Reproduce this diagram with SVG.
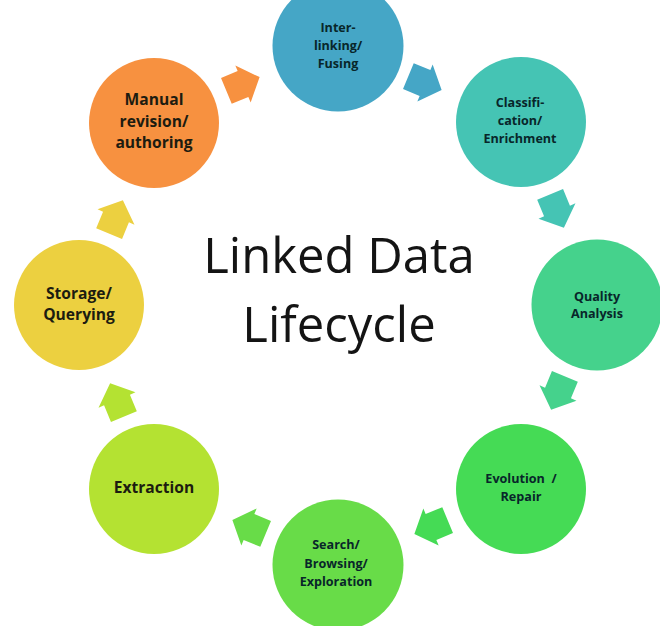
<svg xmlns="http://www.w3.org/2000/svg" xmlns:xlink="http://www.w3.org/1999/xlink" width="660" height="626" viewBox="0 0 660 626">
<style>
.t{font-family:"Open Sans","Liberation Sans",sans-serif;font-size:12.6px;font-weight:700;fill:#08262a;text-anchor:middle;white-space:pre}
.b{font-family:"Open Sans","Liberation Sans",sans-serif;font-size:15.6px;font-weight:700;fill:#1c1c10;text-anchor:middle}
.title{font-family:"Open Sans","Liberation Sans",sans-serif;font-size:49px;fill:#141414;text-anchor:middle}
</style>
<defs><polygon id="arr" points="-18,-14 0,-14 0,-20 18,0 0,20 0,14 -18,14"/></defs>
<rect width="660" height="626" fill="#fff"/>
<g id="connectors">
<use xlink:href="#arr" href="#arr" fill="#f79140" transform="translate(243,84) rotate(-22.5)"/>
<use xlink:href="#arr" href="#arr" fill="#45a6c6" transform="translate(425,83) rotate(22.5)"/>
<use xlink:href="#arr" href="#arr" fill="#45c4b4" transform="translate(557,211) rotate(67.5)"/>
<use xlink:href="#arr" href="#arr" fill="#45d28c" transform="translate(558,393) rotate(112.5)"/>
<use xlink:href="#arr" href="#arr" fill="#45db55" transform="translate(431,527) rotate(157.5)"/>
<use xlink:href="#arr" href="#arr" fill="#68dc48" transform="translate(249,527) rotate(202.5)"/>
<use xlink:href="#arr" href="#arr" fill="#b4e232" transform="translate(117,400) rotate(247.5)"/>
<use xlink:href="#arr" href="#arr" fill="#ecd040" transform="translate(116,217) rotate(-67.5)"/>
</g>
<g id="n-interlinking"><circle cx="338" cy="46" r="65.5" fill="#45a6c6"/>
<text class="t" x="338" y="32">Inter-</text><text class="t" x="338" y="50">linking/</text><text class="t" x="338" y="68">Fusing</text></g>
<g id="n-classification"><circle cx="521" cy="122" r="65" fill="#45c4b4"/>
<text class="t" x="520" y="107">Classifi-</text><text class="t" x="520" y="125">cation/</text><text class="t" x="520" y="143">Enrichment</text></g>
<g id="n-quality"><circle cx="597" cy="305" r="65.5" fill="#45d28c"/>
<text class="t" x="597" y="301">Quality</text><text class="t" x="597" y="318">Analysis</text></g>
<g id="n-evolution"><circle cx="521" cy="489" r="65" fill="#45db55"/>
<text class="t" x="521" y="483">Evolution  /</text><text class="t" x="521" y="501">Repair</text></g>
<g id="n-search"><circle cx="338" cy="565" r="65.5" fill="#68dc48"/>
<text class="t" x="336" y="549">Search/</text><text class="t" x="336" y="568">Browsing/</text><text class="t" x="336" y="586">Exploration</text></g>
<g id="n-extraction"><circle cx="154" cy="489" r="65" fill="#b4e232"/>
<text class="b" x="154" y="493">Extraction</text></g>
<g id="n-storage"><circle cx="79" cy="305" r="65" fill="#ecd040"/>
<text class="b" x="79" y="299">Storage/</text><text class="b" x="79" y="320">Querying</text></g>
<g id="n-manual"><circle cx="154" cy="123" r="65" fill="#f79140"/>
<text class="b" x="154" y="105">Manual</text><text class="b" x="154" y="127">revision/</text><text class="b" x="154" y="148">authoring</text></g>
<g id="title"><text class="title" x="339" y="273">Linked Data</text><text class="title" x="339" y="342">Lifecycle</text></g>
</svg>
